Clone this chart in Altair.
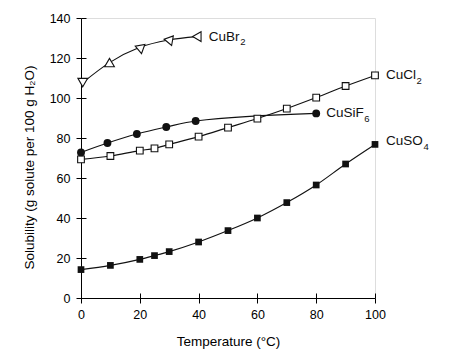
import altair as alt
import pandas as pd

FONT = "Liberation Sans"

# ---- data ----
br_t = [0.6, 9.7, 19.8, 29.7, 39.4]
br_s = [107.7, 117.7, 125.2, 129.0, 130.7]
br_ang = [180, 0, 290, 280, 270]

cl_t = [0, 10, 20, 25, 30, 40, 50, 60, 70, 80, 90, 100]
cl_s = [69.3, 71.0, 73.7, 74.8, 76.8, 80.7, 85.2, 89.7, 94.7, 100.2, 106.0, 111.3]

sif_t = [0, 9, 19, 29, 39, 80]
sif_s = [72.8, 77.5, 82.0, 85.5, 88.5, 92.3]

so4_t = [0, 10, 20, 25, 30, 40, 50, 60, 70, 80, 90, 100]
so4_s = [14.2, 16.3, 19.3, 21.2, 23.2, 28.0, 33.7, 40.0, 47.7, 56.5, 67.0, 76.8]

x_ticks = [0, 20, 40, 60, 80, 100]
y_ticks = [0, 20, 40, 60, 80, 100, 120, 140]

names = ["CuBr2", "CuCl2", "CuSiF6", "CuSO4"]
label_main = ["CuBr", "CuCl", "CuSiF", "CuSO"]
label_sub = ["2", "2", "6", "4"]

br = pd.DataFrame({"series": "CuBr2", "t": br_t, "s": br_s, "ang": br_ang})
cl = pd.DataFrame({"series": "CuCl2", "t": cl_t, "s": cl_s})
sif = pd.DataFrame({"series": "CuSiF6", "t": sif_t, "s": sif_s})
so4 = pd.DataFrame({"series": "CuSO4", "t": so4_t, "s": so4_s})
alld = pd.concat([br, cl, sif, so4], ignore_index=True)

xs = alt.Scale(domain=[0, 100], nice=False, zero=False)
ys = alt.Scale(domain=[0, 140], nice=False, zero=False)

main_x = alt.Axis(values=x_ticks, grid=False, ticks=True, tickSize=5, labelPadding=5,
                  labelFlush=False, labelOverlap=False,
                  title="Temperature (°C)", titleY=36, titleFontWeight="normal",
                  titleFontSize=13.5, labelFontSize=12.5, domainColor="black",
                  tickColor="black", labelColor="black", titleColor="black",
                  labelFont=FONT, titleFont=FONT, orient="bottom")
main_y = alt.Axis(values=y_ticks, grid=False, ticks=True, tickSize=5, labelPadding=6,
                  labelFlush=False, labelOverlap=False,
                  title="Solubility (g solute per 100 g H₂O)", titleX=-45, titleY=149,
                  titleFontWeight="normal", titleFontSize=13.5, labelFontSize=12.5,
                  domainColor="black", tickColor="black", labelColor="black",
                  titleColor="black", labelFont=FONT, titleFont=FONT, orient="left")
in_x = alt.Axis(values=x_ticks, grid=False, ticks=True, tickSize=5, labels=False,
                domain=False, offset=-5, title=None, tickColor="black", orient="bottom")
in_y = alt.Axis(values=y_ticks, grid=False, ticks=True, tickSize=5, labels=False,
                domain=False, offset=-5, title=None, tickColor="black", orient="left")

lines = alt.Chart(alld).mark_line(interpolate="monotone", color="#111", strokeWidth=1.1).encode(
    x=alt.X("t:Q", scale=xs, axis=main_x),
    y=alt.Y("s:Q", scale=ys, axis=main_y),
    detail="series:N",
)

tri = alt.Chart(br).mark_point(shape="triangle-up", size=95, fill="white", filled=False,
                               stroke="#111", strokeWidth=1.1, opacity=1, fillOpacity=1).encode(
    x=alt.X("t:Q", scale=xs, axis=in_x),
    y=alt.Y("s:Q", scale=ys, axis=in_y),
    angle=alt.Angle("ang:Q", scale=None),
)

osq = alt.Chart(cl).mark_point(shape="square", size=45, fill="white", stroke="#111",
                               strokeWidth=1.1, opacity=1, fillOpacity=1).encode(
    x=alt.X("t:Q", scale=xs, axis=None),
    y=alt.Y("s:Q", scale=ys, axis=None),
)

circ = alt.Chart(sif).mark_point(shape="circle", size=62, filled=True, color="#111", opacity=1).encode(
    x=alt.X("t:Q", scale=xs, axis=None),
    y=alt.Y("s:Q", scale=ys, axis=None),
)

fsq = alt.Chart(so4).mark_point(shape="square", size=45, filled=True, color="#111", opacity=1).encode(
    x=alt.X("t:Q", scale=xs, axis=None),
    y=alt.Y("s:Q", scale=ys, axis=None),
)

lab_df = pd.DataFrame({
    "series": names,
    "main": label_main,
    "sub": label_sub,
    "t": [br_t[-1], cl_t[-1], sif_t[-1], so4_t[-1]],
    "s": [br_s[-1], cl_s[-1], sif_s[-1], so4_s[-1]],
})
# (dx, dy, width of main text in px at 13.5px)
offsets = {"CuBr2": (12, 0, 30.9), "CuCl2": (11, 0, 30.1),
           "CuSiF6": (10, 0, 37.6), "CuSO4": (11, -3, 36.9)}
texts = []
for n in names:
    dx, dy, w = offsets[n]
    sub_df = lab_df[lab_df.series == n]
    texts.append(
        alt.Chart(sub_df).mark_text(
            align="left", baseline="middle", dx=dx, dy=dy, font=FONT, fontSize=13.5, color="#111"
        ).encode(
            x=alt.X("t:Q", scale=xs, axis=None),
            y=alt.Y("s:Q", scale=ys, axis=None),
            text="main:N",
        )
    )
    texts.append(
        alt.Chart(sub_df).mark_text(
            align="left", baseline="middle", dx=dx + w + 0.5, dy=dy + 5.5, font=FONT,
            fontSize=9.5, color="#111"
        ).encode(
            x=alt.X("t:Q", scale=xs, axis=None),
            y=alt.Y("s:Q", scale=ys, axis=None),
            text="sub:N",
        )
    )

chart = alt.layer(lines, tri, osq, circ, fsq, *texts).resolve_axis(
    x="independent", y="independent"
).properties(
    width=294, height=280,
    autosize=alt.AutoSizeParams(type="none"),
    padding={"left": 73, "top": 10, "right": 91, "bottom": 52},
).configure_view(stroke=None).configure(background="white")

chart.save("out.html", embed_options={"renderer": "svg", "actions": False})
